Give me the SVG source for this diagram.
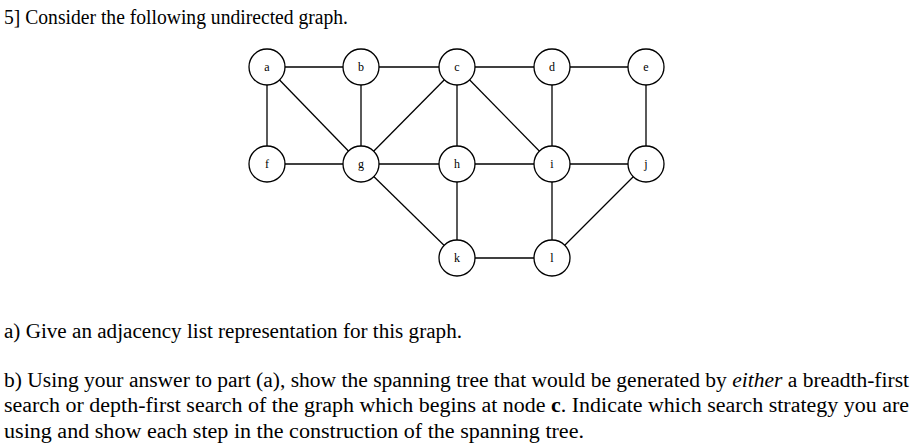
<svg xmlns="http://www.w3.org/2000/svg" width="913" height="446" viewBox="0 0 913 446">
<style>
text{font-family:"Liberation Serif",serif;fill:#000}
.t{font-size:20px}
.n circle{fill:#fff;stroke:#000;stroke-width:1.3}
.n text{font-size:12px;text-anchor:middle}
#edges line{stroke:#000;stroke-width:1.3}
</style>
<rect width="913" height="446" fill="#fff"/>
<text class="t" x="4" y="24" textLength="344" lengthAdjust="spacingAndGlyphs">5] Consider the following undirected graph.</text>
<g id="edges">
<line x1="267" y1="67" x2="646" y2="67"/>
<line x1="267" y1="67" x2="267" y2="164"/>
<line x1="267" y1="67" x2="361" y2="164"/>
<line x1="361" y1="67" x2="361" y2="164"/>
<line x1="457" y1="67" x2="361" y2="164"/>
<line x1="457" y1="67" x2="457" y2="164"/>
<line x1="457" y1="67" x2="552" y2="164"/>
<line x1="552" y1="67" x2="552" y2="164"/>
<line x1="646" y1="67" x2="646" y2="164"/>
<line x1="267" y1="164" x2="646" y2="164"/>
<line x1="361" y1="164" x2="457" y2="258"/>
<line x1="457" y1="164" x2="457" y2="258"/>
<line x1="552" y1="164" x2="552" y2="258"/>
<line x1="646" y1="164" x2="552" y2="258"/>
<line x1="457" y1="258" x2="552" y2="258"/>
</g>
<g id="a" class="n"><circle cx="267" cy="67" r="18"/><text x="267" y="71">a</text></g>
<g id="b" class="n"><circle cx="361" cy="67" r="18"/><text x="361" y="71">b</text></g>
<g id="c" class="n"><circle cx="457" cy="67" r="18"/><text x="457" y="71">c</text></g>
<g id="d" class="n"><circle cx="552" cy="67" r="18"/><text x="552" y="71">d</text></g>
<g id="e" class="n"><circle cx="646" cy="67" r="18"/><text x="646" y="71">e</text></g>
<g id="f" class="n"><circle cx="267" cy="164" r="18"/><text x="267" y="168">f</text></g>
<g id="g" class="n"><circle cx="361" cy="164" r="18"/><text x="361" y="168">g</text></g>
<g id="h" class="n"><circle cx="457" cy="164" r="18"/><text x="457" y="168">h</text></g>
<g id="i" class="n"><circle cx="552" cy="164" r="18"/><text x="552" y="168">i</text></g>
<g id="j" class="n"><circle cx="646" cy="164" r="18"/><text x="646" y="168">j</text></g>
<g id="k" class="n"><circle cx="457" cy="258" r="18"/><text x="457" y="262">k</text></g>
<g id="l" class="n"><circle cx="552" cy="258" r="18"/><text x="552" y="262">l</text></g>
<text class="t" x="4" y="338" textLength="458" lengthAdjust="spacingAndGlyphs">a) Give an adjacency list representation for this graph.</text>
<text class="t" x="4" y="387" textLength="905" lengthAdjust="spacingAndGlyphs">b) Using your answer to part (a), show the spanning tree that would be generated by <tspan font-style="italic">either</tspan> a breadth-first</text>
<text class="t" x="4" y="412" textLength="905" lengthAdjust="spacingAndGlyphs">search or depth-first search of the graph which begins at node <tspan font-weight="bold">c</tspan>.  Indicate which search strategy you are</text>
<text class="t" x="4" y="438" textLength="580" lengthAdjust="spacingAndGlyphs">using and show each step in the construction of the spanning tree.</text>
</svg>
